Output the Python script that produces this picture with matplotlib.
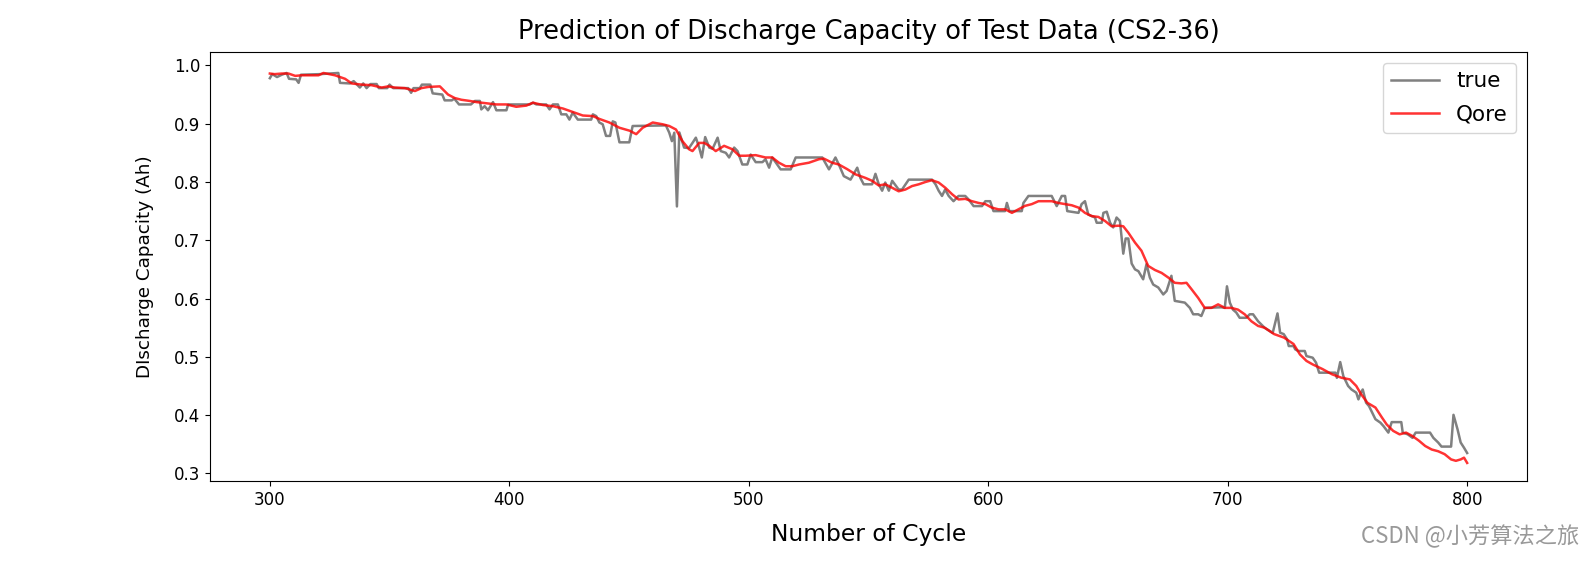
import matplotlib
matplotlib.use("Agg")
import matplotlib.pyplot as plt

plt.rcParams['font.family'] = ['DejaVu Sans', 'Noto Sans CJK JP']

true_cycle = [300, 301, 303, 305, 307, 308, 311, 312, 313, 321, 328.6, 329.3, 333.5, 335, 337.6, 339, 340.4,
              342, 344.6, 345.5, 349, 350, 351.5, 357.8, 359, 360, 362.6, 363.5, 367, 368, 372, 373,
              376, 377, 379, 384, 385.6, 387.7, 388.3, 389.7, 391.1, 393.2, 394.6, 398.8, 399.5, 408.5,
              409.9, 411.3, 415.4, 416.8, 418.2, 420.3, 421.7, 423.8, 425.1, 426.5, 428.6, 434.2, 434.9,
              436.3, 437.6, 439, 440.4, 442.1, 443.2, 444.3, 446, 450.1, 451.5, 465.4, 466.8, 467.9, 468.9,
              470, 471, 473, 475, 476.5, 477.9, 479.3, 480.4, 481.8, 483.5, 484.9, 487, 488.3, 490.4,
              491.8, 493.9, 495.3, 497.3, 499.4, 500.8, 502.9, 505.7, 507, 508.5, 509.8, 513.3, 517.5,
              519.6, 530.7, 533.5, 536.2, 537.6, 539.7, 542.5, 545.3, 546.6, 548, 551.5, 552.9, 554.3,
              555.7, 557, 558.5, 559.9, 562.6, 564, 566.8, 576.5, 578, 579.3, 580.7, 582, 583.5, 585.5,
              587.6, 590.4, 591.8, 593.9, 597.4, 598.8, 600.8, 602.2, 607, 607.8, 608.8, 614, 614.7,
              616.8, 626.5, 628.6, 630.7, 632.1, 633, 637.7, 639, 640.4, 641.8, 644.6, 645.3, 647.4,
              648.1, 649.5, 650.9, 652.2, 653.6, 655, 656.4, 657.4, 658.5, 659.9, 661.3, 662.7, 664.7,
              666.1, 667.5, 668.9, 671, 673.1, 674.5, 676.5, 677.9, 682.1, 684.2, 685.6, 687.7, 689,
              690.4, 697.4, 698.8, 699.7, 700.9, 702.2, 703.6, 705, 707.8, 709.2, 710.6, 712.7, 715.4,
              718.8, 720.8, 721.9, 723.4, 724.8, 725.5, 727.5, 728.2, 729.5, 732.2, 732.9, 735.5, 736.9,
              738.2, 745, 745.6, 747, 748.3, 750.3, 751.7, 753.7, 754.6, 755.6, 756.4, 757.8, 759,
              760.4, 761.7, 763.8, 765.1, 767.1, 768.5, 772.5, 773.1, 775.2, 777.2, 778.5, 784.5, 785.9,
              787.9, 789.3, 793.3, 794.3, 796, 797.3, 798.7, 800]
true_cap = [0.978, 0.985, 0.980, 0.984, 0.987, 0.977, 0.976, 0.970, 0.984, 0.985, 0.987, 0.970, 0.969, 0.973,
            0.962, 0.969, 0.961, 0.968, 0.968, 0.961, 0.961, 0.967, 0.961, 0.961, 0.953, 0.961, 0.961,
            0.967, 0.967, 0.952, 0.950, 0.940, 0.940, 0.943, 0.933, 0.933, 0.939, 0.939, 0.9245, 0.930,
            0.923, 0.937, 0.923, 0.923, 0.933, 0.933, 0.936, 0.933, 0.933, 0.9245, 0.933, 0.933, 0.916,
            0.916, 0.907, 0.919, 0.907, 0.907, 0.916, 0.913, 0.902, 0.899, 0.879, 0.879, 0.904, 0.902,
            0.868, 0.868, 0.896, 0.897, 0.8845, 0.870, 0.8845, 0.758, 0.885, 0.859, 0.858, 0.867, 0.876,
            0.859, 0.842, 0.877, 0.859, 0.857, 0.876, 0.853, 0.850, 0.842, 0.859, 0.853, 0.830, 0.830,
            0.847, 0.834, 0.834, 0.839, 0.8245, 0.842, 0.8216, 0.8216, 0.842, 0.842, 0.8216, 0.842,
            0.830, 0.810, 0.804, 0.8245, 0.807, 0.796, 0.796, 0.814, 0.796, 0.785, 0.799, 0.785, 0.802,
            0.787, 0.787, 0.804, 0.804, 0.796, 0.785, 0.776, 0.787, 0.776, 0.767, 0.776, 0.776, 0.770,
            0.7586, 0.7586, 0.767, 0.767, 0.750, 0.750, 0.764, 0.750, 0.750, 0.764, 0.776, 0.776, 0.7586,
            0.776, 0.776, 0.750, 0.747, 0.762, 0.767, 0.744, 0.739, 0.730, 0.730, 0.747, 0.749, 0.730,
            0.722, 0.739, 0.733, 0.677, 0.703, 0.703, 0.660, 0.650, 0.647, 0.633, 0.659, 0.636, 0.624,
            0.619, 0.607, 0.613, 0.639, 0.596, 0.593, 0.584, 0.573, 0.573, 0.570, 0.584, 0.585, 0.584,
            0.621, 0.593, 0.581, 0.576, 0.567, 0.567, 0.573, 0.573, 0.561, 0.550, 0.541, 0.5745, 0.5414,
            0.539, 0.530, 0.5185, 0.5185, 0.5128, 0.510, 0.510, 0.5013, 0.4985, 0.490, 0.4728, 0.4728,
            0.464, 0.491, 0.467, 0.450, 0.444, 0.4385, 0.427, 0.4385, 0.444, 0.4213, 0.4156, 0.404,
            0.393, 0.387, 0.381, 0.370, 0.388, 0.388, 0.370, 0.367, 0.361, 0.370, 0.370, 0.361, 0.353,
            0.346, 0.346, 0.4005, 0.3755, 0.353, 0.344, 0.335]

# Qore prediction (cycle, Ah)
pred_cycle = [300, 302, 305, 307.8, 310.6, 313.3, 320.3, 322.4, 327.2, 331.4, 334.2, 338.3, 342.5, 346.7,
              349.4, 352.2, 356.4, 360.6, 363.3, 366.1, 371, 374.4, 377.2, 380, 383.5, 386.3, 390.4,
              394.6, 398.8, 402.9, 407.1, 409.9, 414, 418.2, 422.4, 426.5, 430.7, 434.9, 437.7, 441.8,
              446, 450.2, 453, 455.7, 459.9, 464, 466.8, 469.6, 472.3, 475.1, 476.5, 479.3, 481.4,
              483.5, 486.2, 489.7, 493.2, 496, 498.7, 502.9, 507, 509.8, 512.6, 515.4, 518.2, 521,
              525.1, 529.3, 531.4, 534.8, 537.6, 541.1, 544.6, 548.7, 551.5, 554.3, 557, 559.9, 562.6,
              565.4, 568.2, 571, 573.8, 576.5, 579.3, 582.1, 584.9, 587.6, 590.4, 593.2, 596, 598.8,
              601.5, 604.3, 607.1, 609.9, 612.6, 615.4, 618.2, 621, 623.8, 626.5, 629.3, 632.1, 634.9,
              637.7, 640.4, 643.2, 646, 648.8, 651.5, 654.3, 656.4, 658.5, 661.3, 664, 666.8, 669.6,
              672.4, 675.2, 677.9, 680.7, 682.8, 684.9, 687.7, 690.4, 693.2, 696, 698.8, 701.5, 704.3,
              707.1, 709.9, 712.7, 715.4, 719.4, 723.5, 727.5, 730.2, 732.9, 735.5, 739.6, 743.6, 747.6,
              751, 753.7, 755.7, 758.4, 761.7, 764.4, 766.4, 769.1, 771.8, 774.5, 777.2, 779.9, 782.5,
              785.2, 787.9, 790.6, 793.3, 795.3, 797.3, 798.7, 800]
pred_cap = [0.986, 0.985, 0.986, 0.986, 0.982, 0.983, 0.983, 0.987, 0.983, 0.977, 0.969, 0.967, 0.966,
            0.962, 0.964, 0.962, 0.961, 0.956, 0.961, 0.963, 0.964, 0.950, 0.944, 0.941, 0.939, 0.937,
            0.935, 0.933, 0.933, 0.929, 0.931, 0.936, 0.932, 0.930, 0.926, 0.920, 0.914, 0.913, 0.908,
            0.902, 0.893, 0.888, 0.882, 0.893, 0.902, 0.899, 0.896, 0.890, 0.870, 0.856, 0.853, 0.867,
            0.867, 0.862, 0.853, 0.862, 0.856, 0.845, 0.845, 0.846, 0.842, 0.842, 0.833, 0.827, 0.827,
            0.830, 0.833, 0.839, 0.840, 0.833, 0.830, 0.822, 0.813, 0.807, 0.802, 0.794, 0.796, 0.790,
            0.784, 0.787, 0.793, 0.796, 0.800, 0.803, 0.799, 0.790, 0.779, 0.770, 0.771, 0.767, 0.764,
            0.762, 0.756, 0.753, 0.753, 0.747, 0.753, 0.759, 0.762, 0.767, 0.767, 0.767, 0.764, 0.762,
            0.760, 0.756, 0.747, 0.7415, 0.740, 0.733, 0.724, 0.725, 0.724, 0.713, 0.696, 0.682, 0.656,
            0.649, 0.644, 0.636, 0.627, 0.626, 0.627, 0.616, 0.601, 0.584, 0.584, 0.590, 0.584, 0.584,
            0.581, 0.573, 0.561, 0.553, 0.550, 0.539, 0.533, 0.522, 0.504, 0.493, 0.487, 0.479, 0.470,
            0.464, 0.4613, 0.450, 0.436, 0.421, 0.413, 0.396, 0.384, 0.373, 0.367, 0.370, 0.364, 0.356,
            0.347, 0.341, 0.338, 0.333, 0.324, 0.3216, 0.324, 0.327, 0.318]

fig = plt.figure(figsize=(15.86, 5.65), dpi=100)
ax = fig.add_axes([0.1324, 0.1487, 0.8304, 0.7593])
ax.plot(true_cycle, true_cap, color="gray", lw=1.8, label="true")
ax.plot(pred_cycle, pred_cap, color="red", alpha=0.8, lw=1.8, label="Qore")
ax.set_ylim(0.287, 1.023)
ax.tick_params(labelsize=12)
ax.set_xlabel("Number of Cycle", fontsize=16.8, labelpad=10)
ax.set_ylabel("DIscharge Capacity (Ah)", fontsize=13.2, labelpad=14)
ax.set_title("Prediction of Discharge Capacity of Test Data (CS2-36)", fontsize=18.5, pad=9)
ax.legend(loc="upper right", fontsize=15.5, handlelength=2.2, labelspacing=0.6)
fig.text(0.996, 0.03, "CSDN @小芳算法之旅", ha="right", va="bottom", fontsize=16, color="#999999",
         family=["Noto Sans CJK SC", "DejaVu Sans"])
fig.savefig("out.png", dpi=100)
